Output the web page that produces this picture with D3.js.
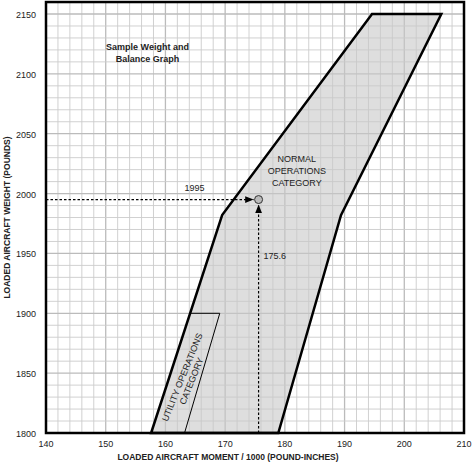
<!DOCTYPE html><html><head><script src="https://cdn.jsdelivr.net/npm/d3@7"></script>
<style>body{margin:0;background:#fff}text{font-family:"Liberation Sans",Arial,sans-serif}</style></head><body>
<svg id="c" width="474" height="463"></svg>
<script>
const xTicks=[140,150,160,170,180,190,200,210];
const yTicks=[1800,1850,1900,1950,2000,2050,2100,2150];
const envelopeX=[157.6,169.5,194.6,206.2,189.4,178.9];
const envelopeY=[1800,1982,2150,2150,1982,1800];
const utilityX=[163.2,169.1,164.1];
const utilityY=[1800,1900,1900];
const pointX=175.6, pointY=1995;

const svg=d3.select("#c");
const x=d3.scaleLinear().domain([140,210]).range([46,464]);
const y=d3.scaleLinear().domain([1800,2150]).range([433,14]);
const g=svg.append("g");
for(let v=140;v<=210;v+=2) g.append("line").attr("x1",x(v)).attr("x2",x(v)).attr("y1",y(1800)).attr("y2",y(2160)).attr("stroke",v%10==0?"#bbb":"#ccc").attr("stroke-width",v%10==0?1.3:0.9);
for(let v=1800;v<=2160;v+=10) g.append("line").attr("y1",y(v)).attr("y2",y(v)).attr("x1",x(140)).attr("x2",x(210)).attr("stroke",v%50==0?"#bbb":"#ccc").attr("stroke-width",v%50==0?1.3:0.9);
const env=envelopeX.map((d,i)=>[x(d),y(envelopeY[i])]);
g.append("path").attr("d",d3.line()(env)+"Z").attr("fill","rgba(200,200,200,0.6)").attr("stroke","#000").attr("stroke-width",2.5).attr("stroke-linejoin","miter");
g.append("path").attr("d",d3.line()(utilityX.map((d,i)=>[x(d),y(utilityY[i])]))).attr("fill","none").attr("stroke","#000").attr("stroke-width",1);
g.append("rect").attr("x",x(140)).attr("y",y(2160)).attr("width",x(210)-x(140)).attr("height",y(1800)-y(2160)).attr("fill","none").attr("stroke","#000").attr("stroke-width",2.5);
const defs=svg.append("defs");
defs.append("marker").attr("id","ar").attr("viewBox","0 0 10 10").attr("refX",10).attr("refY",5).attr("markerWidth",7).attr("markerHeight",7).attr("orient","auto").append("path").attr("d","M0,1L10,5L0,9Z").attr("fill","#000");
const px=x(pointX),py=y(pointY);
g.append("line").attr("x1",x(140)).attr("y1",py).attr("x2",px-5).attr("y2",py).attr("stroke","#000").attr("stroke-width",1.2).attr("stroke-dasharray","2.5,2").attr("marker-end","url(#ar)");
g.append("line").attr("x1",px).attr("y1",y(1800)).attr("x2",px).attr("y2",py+5).attr("stroke","#000").attr("stroke-width",1.2).attr("stroke-dasharray","2.5,2").attr("marker-end","url(#ar)");
g.append("circle").attr("cx",px).attr("cy",py).attr("r",4).attr("fill","#bbb").attr("stroke","#333");
const t=(s,xx,yy,o={})=>g.append("text").attr("x",xx).attr("y",yy).attr("font-size",o.fs||9).attr("text-anchor",o.a||"middle").attr("font-weight",o.w||"normal").attr("fill","#222").text(s);
t(pointY,x(pointX)-64,py-9);
t(pointX,px+5,y(1945),{a:"start"});
t("NORMAL",x(182),y(2026));
t("OPERATIONS",x(182),y(2016));
t("CATEGORY",x(182),y(2006));
t("Sample Weight and",x(157),y(2120),{w:"bold"});
t("Balance Graph",x(157),y(2110),{w:"bold"});
const ut=g.append("g").attr("transform",`translate(${x(163.6)},${y(1845)}) rotate(-68)`);
ut.append("text").attr("text-anchor","middle").attr("font-size",9).attr("y",-2).attr("fill","#222").text("UTILITY OPERATIONS");
ut.append("text").attr("text-anchor","middle").attr("font-size",9).attr("y",8).attr("fill","#222").text("CATEGORY");
xTicks.forEach(v=>t(v,x(v),447,{fs:9}));
yTicks.forEach(v=>t(v,36,y(v)+4,{a:"end"}));
t("LOADED AIRCRAFT MOMENT / 1000 (POUND-INCHES)",228,460,{w:"bold",fs:8.5});
svg.append("text").attr("transform",`translate(10,${(y(1800)+y(2160))/2}) rotate(-90)`).attr("text-anchor","middle").attr("font-size",8.5).attr("font-weight","bold").attr("fill","#222").text("LOADED AIRCRAFT WEIGHT (POUNDS)");
</script></body></html>
